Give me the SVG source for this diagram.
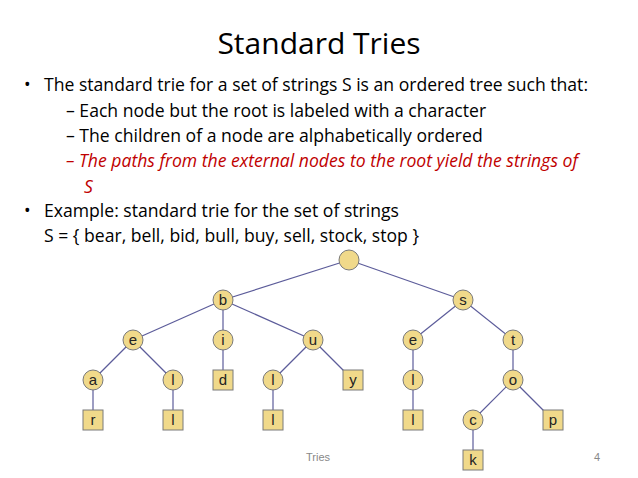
<svg xmlns="http://www.w3.org/2000/svg" width="638" height="478" viewBox="0 0 638 478">
<style>
.t{font-family:"Open Sans","Liberation Sans",sans-serif;fill:#000}
.b{font-size:17.6px}
.n circle,.n rect{fill:#f0d98a;stroke:#7a7a7a;stroke-width:1}
.n text{font-family:"Liberation Sans",Arial,sans-serif;font-size:15px;text-anchor:middle;fill:#222}
#edges line{stroke:#5c5c9a;stroke-width:1.2}
</style>
<rect width="638" height="478" fill="#fff"/>
<text class="t" x="319" y="54" font-size="30" text-anchor="middle">Standard Tries</text>
<g class="t b">
<text x="24" y="91">•</text><text x="44" y="91">The standard trie for a set of strings S is an ordered tree such that:</text>
<text x="66" y="117">– Each node but the root is labeled with a character</text>
<text x="66" y="142">– The children of a node are alphabetically ordered</text>
<text x="66" y="167" fill="#c00000" font-style="italic">– The paths from the external nodes to the root yield the strings of</text>
<text x="84" y="193" fill="#c00000" font-style="italic">S</text>
<text x="24" y="217">•</text><text x="44" y="217">Example: standard trie for the set of strings</text>
<text x="44" y="242">S = { bear, bell, bid, bull, buy, sell, stock, stop }</text>
</g>
<g id="edges">
<line x1="349" y1="260" x2="223" y2="300"/><line x1="349" y1="260" x2="463" y2="300"/>
<line x1="223" y1="300" x2="133" y2="340"/><line x1="223" y1="300" x2="223" y2="340"/><line x1="223" y1="300" x2="313" y2="340"/>
<line x1="463" y1="300" x2="413" y2="340"/><line x1="463" y1="300" x2="513" y2="340"/>
<line x1="133" y1="340" x2="93" y2="380"/><line x1="133" y1="340" x2="173" y2="380"/>
<line x1="223" y1="340" x2="223" y2="380"/>
<line x1="313" y1="340" x2="273" y2="380"/><line x1="313" y1="340" x2="353" y2="380"/>
<line x1="413" y1="340" x2="413" y2="380"/><line x1="513" y1="340" x2="513" y2="380"/>
<line x1="93" y1="380" x2="93" y2="420"/><line x1="173" y1="380" x2="173" y2="420"/><line x1="273" y1="380" x2="273" y2="420"/><line x1="413" y1="380" x2="413" y2="420"/>
<line x1="513" y1="380" x2="473" y2="420"/><line x1="513" y1="380" x2="553" y2="420"/>
<line x1="473" y1="420" x2="473" y2="460"/>
</g>
<g class="n" id="root"><circle cx="349" cy="260" r="10"/></g>
<g class="n" id="b"><circle cx="223" cy="300" r="10"/><text x="223" y="305">b</text></g>
<g class="n" id="s"><circle cx="463" cy="300" r="10"/><text x="463" y="305">s</text></g>
<g class="n" id="be"><circle cx="133" cy="340" r="10"/><text x="133" y="345">e</text></g>
<g class="n" id="bi"><circle cx="223" cy="340" r="10"/><text x="223" y="345">i</text></g>
<g class="n" id="bu"><circle cx="313" cy="340" r="10"/><text x="313" y="345">u</text></g>
<g class="n" id="se"><circle cx="413" cy="340" r="10"/><text x="413" y="345">e</text></g>
<g class="n" id="st"><circle cx="513" cy="340" r="10"/><text x="513" y="345">t</text></g>
<g class="n" id="bea"><circle cx="93" cy="380" r="10"/><text x="93" y="385">a</text></g>
<g class="n" id="bel"><circle cx="173" cy="380" r="10"/><text x="173" y="385">l</text></g>
<g class="n" id="bid"><rect x="213" y="370" width="20" height="20"/><text x="223" y="385">d</text></g>
<g class="n" id="bul"><circle cx="273" cy="380" r="10"/><text x="273" y="385">l</text></g>
<g class="n" id="buy"><rect x="343" y="370" width="20" height="20"/><text x="353" y="385">y</text></g>
<g class="n" id="sel"><circle cx="413" cy="380" r="10"/><text x="413" y="385">l</text></g>
<g class="n" id="sto"><circle cx="513" cy="380" r="10"/><text x="513" y="385">o</text></g>
<g class="n" id="bear"><rect x="83" y="410" width="20" height="20"/><text x="93" y="425">r</text></g>
<g class="n" id="bell"><rect x="163" y="410" width="20" height="20"/><text x="173" y="425">l</text></g>
<g class="n" id="bull"><rect x="263" y="410" width="20" height="20"/><text x="273" y="425">l</text></g>
<g class="n" id="sell"><rect x="403" y="410" width="20" height="20"/><text x="413" y="425">l</text></g>
<g class="n" id="stoc"><circle cx="473" cy="420" r="10"/><text x="473" y="425">c</text></g>
<g class="n" id="stop"><rect x="543" y="410" width="20" height="20"/><text x="553" y="425">p</text></g>
<g class="n" id="stock"><rect x="463" y="450" width="20" height="20"/><text x="473" y="465">k</text></g>
<text x="318" y="461" font-family="Liberation Sans,sans-serif" font-size="11" fill="#888" text-anchor="middle">Tries</text>
<text x="597" y="461" font-family="Liberation Sans,sans-serif" font-size="11" fill="#888" text-anchor="middle">4</text>
</svg>
